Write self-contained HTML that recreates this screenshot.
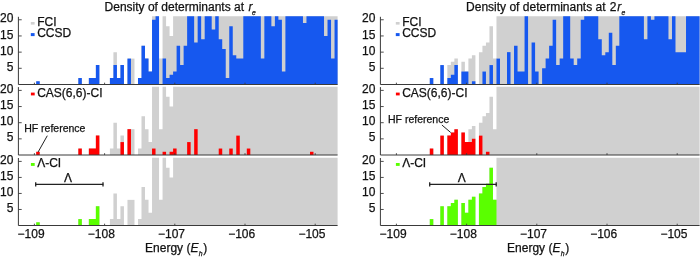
<!DOCTYPE html>
<html><head><meta charset="utf-8"><style>
html,body{margin:0;padding:0;background:#fff;}
body{width:700px;height:257px;overflow:hidden;}
svg{display:block;}
.t{font-family:"Liberation Sans",Arial,sans-serif;font-size:12px;fill:#111;stroke:#111;stroke-width:0.25px;}
.lg{font-family:"Liberation Sans",Arial,sans-serif;font-size:12px;fill:#111;stroke:#111;stroke-width:0.25px;}
.ti{font-family:"Liberation Sans",Arial,sans-serif;font-size:12px;fill:#111;stroke:#111;stroke-width:0.25px;}
.hf{font-family:"Liberation Sans",Arial,sans-serif;font-size:10.5px;fill:#111;stroke:#111;stroke-width:0.25px;}
.lam{font-family:"Liberation Sans",Arial,sans-serif;font-size:12px;fill:#111;stroke:#111;stroke-width:0.25px;}
</style></head><body>
<svg width="700" height="257" viewBox="0 0 700 257" >
<rect x="0" y="0" width="700" height="257" fill="#fff"/>
<path d="M36.20 84.50 L36.20 81.26 L39.71 81.26 L39.71 84.50 Z" fill="#D0D0D0"/>
<path d="M78.32 84.50 L78.32 78.03 L81.83 78.03 L81.83 84.50 Z" fill="#D0D0D0"/>
<path d="M88.85 84.50 L88.85 78.03 L92.36 78.03 L92.36 78.03 L95.87 78.03 L95.87 65.08 L99.38 65.08 L99.38 84.50 Z" fill="#D0D0D0"/>
<path d="M109.91 84.50 L109.91 78.03 L113.42 78.03 L113.42 52.13 L116.93 52.13 L116.93 78.03 L120.44 78.03 L120.44 65.08 L123.95 65.08 L123.95 84.50 Z" fill="#D0D0D0"/>
<path d="M127.46 84.50 L127.46 58.60 L130.97 58.60 L130.97 58.60 L134.48 58.60 L134.48 84.50 Z" fill="#D0D0D0"/>
<path d="M137.99 84.50 L137.99 78.03 L141.50 78.03 L141.50 45.66 L145.01 45.66 L145.01 58.60 L148.52 58.60 L148.52 71.55 L152.03 71.55 L152.03 16.20 L155.54 16.20 L155.54 16.20 L159.05 16.20 L159.05 58.60 L162.56 58.60 L162.56 16.20 L166.07 16.20 L166.07 26.23 L169.58 26.23 L169.58 35.95 L173.09 35.95 L173.09 16.20 L176.60 16.20 L176.60 16.20 L180.11 16.20 L180.11 16.20 L183.62 16.20 L183.62 16.20 L187.13 16.20 L187.13 16.20 L190.64 16.20 L190.64 16.20 L194.15 16.20 L194.15 16.20 L197.66 16.20 L197.66 16.20 L201.17 16.20 L201.17 16.20 L204.68 16.20 L204.68 16.20 L208.19 16.20 L208.19 16.20 L211.70 16.20 L211.70 16.20 L215.21 16.20 L215.21 16.20 L218.72 16.20 L218.72 16.20 L222.23 16.20 L222.23 16.20 L225.74 16.20 L225.74 16.20 L229.25 16.20 L229.25 16.20 L232.76 16.20 L232.76 16.20 L236.27 16.20 L236.27 16.20 L239.78 16.20 L239.78 16.20 L243.29 16.20 L243.29 16.20 L246.80 16.20 L246.80 16.20 L250.31 16.20 L250.31 16.20 L253.82 16.20 L253.82 16.20 L257.33 16.20 L257.33 16.20 L260.84 16.20 L260.84 16.20 L264.35 16.20 L264.35 16.20 L267.86 16.20 L267.86 16.20 L271.37 16.20 L271.37 16.20 L274.88 16.20 L274.88 16.20 L278.39 16.20 L278.39 16.20 L281.90 16.20 L281.90 16.20 L285.41 16.20 L285.41 16.20 L288.92 16.20 L288.92 16.20 L292.43 16.20 L292.43 16.20 L295.94 16.20 L295.94 16.20 L299.45 16.20 L299.45 16.20 L302.96 16.20 L302.96 16.20 L306.47 16.20 L306.47 16.20 L309.98 16.20 L309.98 16.20 L313.49 16.20 L313.49 16.20 L317.00 16.20 L317.00 16.20 L320.51 16.20 L320.51 16.20 L324.02 16.20 L324.02 16.20 L327.53 16.20 L327.53 16.20 L331.04 16.20 L331.04 16.20 L334.55 16.20 L334.55 16.20 L337.60 16.20 L337.60 84.50 Z" fill="#D0D0D0"/>
<path d="M36.20 84.50 L36.20 81.26 L39.71 81.26 L39.71 84.50 Z" fill="#1658EF"/>
<path d="M78.32 84.50 L78.32 78.03 L81.83 78.03 L81.83 84.50 Z" fill="#1658EF"/>
<path d="M88.85 84.50 L88.85 78.03 L92.36 78.03 L92.36 78.03 L95.87 78.03 L95.87 65.08 L99.38 65.08 L99.38 84.50 Z" fill="#1658EF"/>
<path d="M109.91 84.50 L109.91 78.03 L113.42 78.03 L113.42 65.08 L116.93 65.08 L116.93 78.03 L120.44 78.03 L120.44 65.08 L123.95 65.08 L123.95 84.50 Z" fill="#1658EF"/>
<path d="M127.46 84.50 L127.46 58.60 L130.97 58.60 L130.97 84.50 Z" fill="#1658EF"/>
<path d="M137.99 84.50 L137.99 78.03 L141.50 78.03 L141.50 45.66 L145.01 45.66 L145.01 58.60 L148.52 58.60 L148.52 71.55 L152.03 71.55 L152.03 19.76 L155.54 19.76 L155.54 16.20 L159.05 16.20 L159.05 84.50 Z" fill="#1658EF"/>
<path d="M162.56 84.50 L162.56 58.60 L166.07 58.60 L166.07 78.03 L169.58 78.03 L169.58 74.79 L173.09 74.79 L173.09 71.55 L176.60 71.55 L176.60 45.66 L180.11 45.66 L180.11 65.08 L183.62 65.08 L183.62 45.66 L187.13 45.66 L187.13 16.20 L190.64 16.20 L190.64 16.20 L194.15 16.20 L194.15 42.42 L197.66 42.42 L197.66 16.20 L201.17 16.20 L201.17 39.18 L204.68 39.18 L204.68 16.20 L208.19 16.20 L208.19 16.20 L211.70 16.20 L211.70 29.47 L215.21 29.47 L215.21 16.20 L218.72 16.20 L218.72 39.18 L222.23 39.18 L222.23 48.89 L225.74 48.89 L225.74 78.03 L229.25 78.03 L229.25 26.23 L232.76 26.23 L232.76 55.37 L236.27 55.37 L236.27 58.60 L239.78 58.60 L239.78 58.60 L243.29 58.60 L243.29 16.20 L246.80 16.20 L246.80 16.20 L250.31 16.20 L250.31 16.20 L253.82 16.20 L253.82 16.20 L257.33 16.20 L257.33 16.20 L260.84 16.20 L260.84 58.60 L264.35 58.60 L264.35 16.20 L267.86 16.20 L267.86 16.20 L271.37 16.20 L271.37 26.23 L274.88 26.23 L274.88 16.20 L278.39 16.20 L278.39 19.76 L281.90 19.76 L281.90 71.55 L285.41 71.55 L285.41 16.20 L288.92 16.20 L288.92 16.20 L292.43 16.20 L292.43 16.20 L295.94 16.20 L295.94 16.20 L299.45 16.20 L299.45 16.20 L302.96 16.20 L302.96 23.00 L306.47 23.00 L306.47 16.20 L309.98 16.20 L309.98 16.20 L313.49 16.20 L313.49 16.20 L317.00 16.20 L317.00 16.20 L320.51 16.20 L320.51 16.20 L324.02 16.20 L324.02 35.95 L327.53 35.95 L327.53 19.76 L331.04 19.76 L331.04 58.60 L334.55 58.60 L334.55 19.76 L337.60 19.76 L337.60 84.50 Z" fill="#1658EF"/>
<path d="M36.20 155.00 L36.20 151.77 L39.71 151.77 L39.71 155.00 Z" fill="#D0D0D0"/>
<path d="M78.32 155.00 L78.32 148.54 L81.83 148.54 L81.83 155.00 Z" fill="#D0D0D0"/>
<path d="M88.85 155.00 L88.85 148.54 L92.36 148.54 L92.36 148.54 L95.87 148.54 L95.87 135.62 L99.38 135.62 L99.38 155.00 Z" fill="#D0D0D0"/>
<path d="M109.91 155.00 L109.91 148.54 L113.42 148.54 L113.42 122.70 L116.93 122.70 L116.93 148.54 L120.44 148.54 L120.44 135.62 L123.95 135.62 L123.95 155.00 Z" fill="#D0D0D0"/>
<path d="M127.46 155.00 L127.46 129.16 L130.97 129.16 L130.97 129.16 L134.48 129.16 L134.48 155.00 Z" fill="#D0D0D0"/>
<path d="M137.99 155.00 L137.99 148.54 L141.50 148.54 L141.50 116.24 L145.01 116.24 L145.01 129.16 L148.52 129.16 L148.52 142.08 L152.03 142.08 L152.03 86.85 L155.54 86.85 L155.54 86.85 L159.05 86.85 L159.05 129.16 L162.56 129.16 L162.56 86.85 L166.07 86.85 L166.07 96.86 L169.58 96.86 L169.58 106.55 L173.09 106.55 L173.09 86.85 L176.60 86.85 L176.60 86.85 L180.11 86.85 L180.11 86.85 L183.62 86.85 L183.62 86.85 L187.13 86.85 L187.13 86.85 L190.64 86.85 L190.64 86.85 L194.15 86.85 L194.15 86.85 L197.66 86.85 L197.66 86.85 L201.17 86.85 L201.17 86.85 L204.68 86.85 L204.68 86.85 L208.19 86.85 L208.19 86.85 L211.70 86.85 L211.70 86.85 L215.21 86.85 L215.21 86.85 L218.72 86.85 L218.72 86.85 L222.23 86.85 L222.23 86.85 L225.74 86.85 L225.74 86.85 L229.25 86.85 L229.25 86.85 L232.76 86.85 L232.76 86.85 L236.27 86.85 L236.27 86.85 L239.78 86.85 L239.78 86.85 L243.29 86.85 L243.29 86.85 L246.80 86.85 L246.80 86.85 L250.31 86.85 L250.31 86.85 L253.82 86.85 L253.82 86.85 L257.33 86.85 L257.33 86.85 L260.84 86.85 L260.84 86.85 L264.35 86.85 L264.35 86.85 L267.86 86.85 L267.86 86.85 L271.37 86.85 L271.37 86.85 L274.88 86.85 L274.88 86.85 L278.39 86.85 L278.39 86.85 L281.90 86.85 L281.90 86.85 L285.41 86.85 L285.41 86.85 L288.92 86.85 L288.92 86.85 L292.43 86.85 L292.43 86.85 L295.94 86.85 L295.94 86.85 L299.45 86.85 L299.45 86.85 L302.96 86.85 L302.96 86.85 L306.47 86.85 L306.47 86.85 L309.98 86.85 L309.98 86.85 L313.49 86.85 L313.49 86.85 L317.00 86.85 L317.00 86.85 L320.51 86.85 L320.51 86.85 L324.02 86.85 L324.02 86.85 L327.53 86.85 L327.53 86.85 L331.04 86.85 L331.04 86.85 L334.55 86.85 L334.55 86.85 L337.60 86.85 L337.60 155.00 Z" fill="#D0D0D0"/>
<path d="M36.20 155.00 L36.20 151.77 L39.71 151.77 L39.71 155.00 Z" fill="#FF0000"/>
<path d="M78.32 155.00 L78.32 148.54 L81.83 148.54 L81.83 155.00 Z" fill="#FF0000"/>
<path d="M88.85 155.00 L88.85 148.54 L92.36 148.54 L92.36 148.54 L95.87 148.54 L95.87 135.62 L99.38 135.62 L99.38 155.00 Z" fill="#FF0000"/>
<path d="M120.44 155.00 L120.44 142.08 L123.95 142.08 L123.95 155.00 Z" fill="#FF0000"/>
<path d="M127.46 155.00 L127.46 129.16 L130.97 129.16 L130.97 155.00 Z" fill="#FF0000"/>
<path d="M152.03 155.00 L152.03 148.54 L155.54 148.54 L155.54 155.00 Z" fill="#FF0000"/>
<path d="M162.56 155.00 L162.56 151.77 L166.07 151.77 L166.07 155.00 Z" fill="#FF0000"/>
<path d="M169.58 155.00 L169.58 151.77 L173.09 151.77 L173.09 148.54 L176.60 148.54 L176.60 155.00 Z" fill="#FF0000"/>
<path d="M187.13 155.00 L187.13 142.08 L190.64 142.08 L190.64 155.00 Z" fill="#FF0000"/>
<path d="M194.15 155.00 L194.15 129.16 L197.66 129.16 L197.66 155.00 Z" fill="#FF0000"/>
<path d="M218.72 155.00 L218.72 148.54 L222.23 148.54 L222.23 155.00 Z" fill="#FF0000"/>
<path d="M229.25 155.00 L229.25 148.54 L232.76 148.54 L232.76 155.00 Z" fill="#FF0000"/>
<path d="M236.27 155.00 L236.27 135.62 L239.78 135.62 L239.78 155.00 Z" fill="#FF0000"/>
<path d="M246.80 155.00 L246.80 148.54 L250.31 148.54 L250.31 155.00 Z" fill="#FF0000"/>
<path d="M309.98 155.00 L309.98 151.77 L313.49 151.77 L313.49 155.00 Z" fill="#FF0000"/>
<path d="M36.20 225.50 L36.20 222.29 L39.71 222.29 L39.71 225.50 Z" fill="#D0D0D0"/>
<path d="M78.32 225.50 L78.32 219.09 L81.83 219.09 L81.83 225.50 Z" fill="#D0D0D0"/>
<path d="M88.85 225.50 L88.85 219.09 L92.36 219.09 L92.36 219.09 L95.87 219.09 L95.87 206.27 L99.38 206.27 L99.38 225.50 Z" fill="#D0D0D0"/>
<path d="M109.91 225.50 L109.91 219.09 L113.42 219.09 L113.42 193.45 L116.93 193.45 L116.93 219.09 L120.44 219.09 L120.44 206.27 L123.95 206.27 L123.95 225.50 Z" fill="#D0D0D0"/>
<path d="M127.46 225.50 L127.46 199.86 L130.97 199.86 L130.97 199.86 L134.48 199.86 L134.48 225.50 Z" fill="#D0D0D0"/>
<path d="M137.99 225.50 L137.99 219.09 L141.50 219.09 L141.50 187.04 L145.01 187.04 L145.01 199.86 L148.52 199.86 L148.52 212.68 L152.03 212.68 L152.03 157.87 L155.54 157.87 L155.54 157.87 L159.05 157.87 L159.05 199.86 L162.56 199.86 L162.56 157.87 L166.07 157.87 L166.07 167.81 L169.58 167.81 L169.58 177.43 L173.09 177.43 L173.09 157.87 L176.60 157.87 L176.60 157.87 L180.11 157.87 L180.11 157.87 L183.62 157.87 L183.62 157.87 L187.13 157.87 L187.13 157.87 L190.64 157.87 L190.64 157.87 L194.15 157.87 L194.15 157.87 L197.66 157.87 L197.66 157.87 L201.17 157.87 L201.17 157.87 L204.68 157.87 L204.68 157.87 L208.19 157.87 L208.19 157.87 L211.70 157.87 L211.70 157.87 L215.21 157.87 L215.21 157.87 L218.72 157.87 L218.72 157.87 L222.23 157.87 L222.23 157.87 L225.74 157.87 L225.74 157.87 L229.25 157.87 L229.25 157.87 L232.76 157.87 L232.76 157.87 L236.27 157.87 L236.27 157.87 L239.78 157.87 L239.78 157.87 L243.29 157.87 L243.29 157.87 L246.80 157.87 L246.80 157.87 L250.31 157.87 L250.31 157.87 L253.82 157.87 L253.82 157.87 L257.33 157.87 L257.33 157.87 L260.84 157.87 L260.84 157.87 L264.35 157.87 L264.35 157.87 L267.86 157.87 L267.86 157.87 L271.37 157.87 L271.37 157.87 L274.88 157.87 L274.88 157.87 L278.39 157.87 L278.39 157.87 L281.90 157.87 L281.90 157.87 L285.41 157.87 L285.41 157.87 L288.92 157.87 L288.92 157.87 L292.43 157.87 L292.43 157.87 L295.94 157.87 L295.94 157.87 L299.45 157.87 L299.45 157.87 L302.96 157.87 L302.96 157.87 L306.47 157.87 L306.47 157.87 L309.98 157.87 L309.98 157.87 L313.49 157.87 L313.49 157.87 L317.00 157.87 L317.00 157.87 L320.51 157.87 L320.51 157.87 L324.02 157.87 L324.02 157.87 L327.53 157.87 L327.53 157.87 L331.04 157.87 L331.04 157.87 L334.55 157.87 L334.55 157.87 L337.60 157.87 L337.60 225.50 Z" fill="#D0D0D0"/>
<path d="M36.20 225.50 L36.20 222.29 L39.71 222.29 L39.71 225.50 Z" fill="#5AFF00"/>
<path d="M78.32 225.50 L78.32 219.09 L81.83 219.09 L81.83 225.50 Z" fill="#5AFF00"/>
<path d="M88.85 225.50 L88.85 219.09 L92.36 219.09 L92.36 219.09 L95.87 219.09 L95.87 206.27 L99.38 206.27 L99.38 225.50 Z" fill="#5AFF00"/>
<line x1="18.40" y1="68.31" x2="21.70" y2="68.31" stroke="#3a3a3a" stroke-width="0.9"/>
<text x="13.40" y="70.91" text-anchor="end" class="t">5</text>
<line x1="18.40" y1="52.13" x2="21.70" y2="52.13" stroke="#3a3a3a" stroke-width="0.9"/>
<text x="13.40" y="54.73" text-anchor="end" class="t">10</text>
<line x1="18.40" y1="35.95" x2="21.70" y2="35.95" stroke="#3a3a3a" stroke-width="0.9"/>
<text x="13.40" y="38.55" text-anchor="end" class="t">15</text>
<line x1="18.40" y1="19.76" x2="21.70" y2="19.76" stroke="#3a3a3a" stroke-width="0.9"/>
<text x="13.40" y="22.36" text-anchor="end" class="t">20</text>
<line x1="34.40" y1="84.50" x2="34.40" y2="82.70" stroke="#3a3a3a" stroke-width="0.9"/>
<line x1="104.60" y1="84.50" x2="104.60" y2="82.70" stroke="#3a3a3a" stroke-width="0.9"/>
<line x1="174.80" y1="84.50" x2="174.80" y2="82.70" stroke="#3a3a3a" stroke-width="0.9"/>
<line x1="245.00" y1="84.50" x2="245.00" y2="82.70" stroke="#3a3a3a" stroke-width="0.9"/>
<line x1="315.20" y1="84.50" x2="315.20" y2="82.70" stroke="#3a3a3a" stroke-width="0.9"/>
<path d="M18.40 16.80 V84.50 H337.60" fill="none" stroke="#3a3a3a" stroke-width="1"/>
<line x1="18.40" y1="138.85" x2="21.70" y2="138.85" stroke="#3a3a3a" stroke-width="0.9"/>
<text x="13.40" y="141.45" text-anchor="end" class="t">5</text>
<line x1="18.40" y1="122.70" x2="21.70" y2="122.70" stroke="#3a3a3a" stroke-width="0.9"/>
<text x="13.40" y="125.30" text-anchor="end" class="t">10</text>
<line x1="18.40" y1="106.55" x2="21.70" y2="106.55" stroke="#3a3a3a" stroke-width="0.9"/>
<text x="13.40" y="109.15" text-anchor="end" class="t">15</text>
<line x1="18.40" y1="90.40" x2="21.70" y2="90.40" stroke="#3a3a3a" stroke-width="0.9"/>
<text x="13.40" y="93.00" text-anchor="end" class="t">20</text>
<line x1="34.40" y1="155.00" x2="34.40" y2="153.20" stroke="#3a3a3a" stroke-width="0.9"/>
<line x1="104.60" y1="155.00" x2="104.60" y2="153.20" stroke="#3a3a3a" stroke-width="0.9"/>
<line x1="174.80" y1="155.00" x2="174.80" y2="153.20" stroke="#3a3a3a" stroke-width="0.9"/>
<line x1="245.00" y1="155.00" x2="245.00" y2="153.20" stroke="#3a3a3a" stroke-width="0.9"/>
<line x1="315.20" y1="155.00" x2="315.20" y2="153.20" stroke="#3a3a3a" stroke-width="0.9"/>
<path d="M18.40 87.10 V155.00 H337.60" fill="none" stroke="#3a3a3a" stroke-width="1"/>
<line x1="18.40" y1="209.47" x2="21.70" y2="209.47" stroke="#3a3a3a" stroke-width="0.9"/>
<text x="13.40" y="212.07" text-anchor="end" class="t">5</text>
<line x1="18.40" y1="193.45" x2="21.70" y2="193.45" stroke="#3a3a3a" stroke-width="0.9"/>
<text x="13.40" y="196.05" text-anchor="end" class="t">10</text>
<line x1="18.40" y1="177.43" x2="21.70" y2="177.43" stroke="#3a3a3a" stroke-width="0.9"/>
<text x="13.40" y="180.03" text-anchor="end" class="t">15</text>
<line x1="18.40" y1="161.40" x2="21.70" y2="161.40" stroke="#3a3a3a" stroke-width="0.9"/>
<text x="13.40" y="164.00" text-anchor="end" class="t">20</text>
<line x1="34.40" y1="225.50" x2="34.40" y2="223.70" stroke="#3a3a3a" stroke-width="0.9"/>
<line x1="104.60" y1="225.50" x2="104.60" y2="223.70" stroke="#3a3a3a" stroke-width="0.9"/>
<line x1="174.80" y1="225.50" x2="174.80" y2="223.70" stroke="#3a3a3a" stroke-width="0.9"/>
<line x1="245.00" y1="225.50" x2="245.00" y2="223.70" stroke="#3a3a3a" stroke-width="0.9"/>
<line x1="315.20" y1="225.50" x2="315.20" y2="223.70" stroke="#3a3a3a" stroke-width="0.9"/>
<path d="M18.40 158.00 V225.50 H337.60" fill="none" stroke="#3a3a3a" stroke-width="1"/>
<text x="34.40" y="237.5" class="t" text-anchor="middle"><tspan dx="-3.3">−109</tspan></text>
<text x="104.60" y="237.5" class="t" text-anchor="middle"><tspan dx="-3.3">−108</tspan></text>
<text x="174.80" y="237.5" class="t" text-anchor="middle"><tspan dx="-3.3">−107</tspan></text>
<text x="245.00" y="237.5" class="t" text-anchor="middle"><tspan dx="-3.3">−106</tspan></text>
<text x="315.20" y="237.5" class="t" text-anchor="middle"><tspan dx="-3.3">−105</tspan></text>
<text x="145.10" y="251.7" class="t">Energy (<tspan font-style="italic">E</tspan><tspan font-style="italic" font-size="6.8" dy="4.0" dx="0.3">h</tspan><tspan dy="-4.0" dx="0.6">)</tspan></text>
<path d="M429.79 84.50 L429.79 78.03 L433.30 78.03 L433.30 84.50 Z" fill="#D0D0D0"/>
<path d="M440.32 84.50 L440.32 65.08 L443.83 65.08 L443.83 84.50 Z" fill="#D0D0D0"/>
<path d="M447.34 84.50 L447.34 65.08 L450.85 65.08 L450.85 61.84 L454.36 61.84 L454.36 58.60 L457.87 58.60 L457.87 84.50 Z" fill="#D0D0D0"/>
<path d="M461.38 84.50 L461.38 61.84 L464.89 61.84 L464.89 71.55 L468.40 71.55 L468.40 58.60 L471.91 58.60 L471.91 55.37 L475.42 55.37 L475.42 84.50 Z" fill="#D0D0D0"/>
<path d="M478.93 84.50 L478.93 52.13 L482.44 52.13 L482.44 45.66 L485.95 45.66 L485.95 42.42 L489.46 42.42 L489.46 26.23 L492.97 26.23 L492.97 58.60 L496.48 58.60 L496.48 16.20 L499.99 16.20 L499.99 16.20 L503.50 16.20 L503.50 16.20 L507.01 16.20 L507.01 16.20 L510.52 16.20 L510.52 16.20 L514.03 16.20 L514.03 16.20 L517.54 16.20 L517.54 16.20 L521.05 16.20 L521.05 16.20 L524.56 16.20 L524.56 16.20 L528.07 16.20 L528.07 16.20 L531.58 16.20 L531.58 16.20 L535.09 16.20 L535.09 16.20 L538.60 16.20 L538.60 16.20 L542.11 16.20 L542.11 16.20 L545.62 16.20 L545.62 16.20 L549.13 16.20 L549.13 16.20 L552.64 16.20 L552.64 16.20 L556.15 16.20 L556.15 16.20 L559.66 16.20 L559.66 16.20 L563.17 16.20 L563.17 16.20 L566.68 16.20 L566.68 16.20 L570.19 16.20 L570.19 16.20 L573.70 16.20 L573.70 16.20 L577.21 16.20 L577.21 16.20 L580.72 16.20 L580.72 16.20 L584.23 16.20 L584.23 16.20 L587.74 16.20 L587.74 16.20 L591.25 16.20 L591.25 16.20 L594.76 16.20 L594.76 16.20 L598.27 16.20 L598.27 16.20 L601.78 16.20 L601.78 16.20 L605.29 16.20 L605.29 16.20 L608.80 16.20 L608.80 16.20 L612.31 16.20 L612.31 16.20 L615.82 16.20 L615.82 16.20 L619.33 16.20 L619.33 16.20 L622.84 16.20 L622.84 16.20 L626.35 16.20 L626.35 16.20 L629.86 16.20 L629.86 16.20 L633.37 16.20 L633.37 16.20 L636.88 16.20 L636.88 16.20 L640.39 16.20 L640.39 16.20 L643.90 16.20 L643.90 16.20 L647.41 16.20 L647.41 16.20 L650.92 16.20 L650.92 16.20 L654.43 16.20 L654.43 16.20 L657.94 16.20 L657.94 16.20 L661.45 16.20 L661.45 16.20 L664.96 16.20 L664.96 16.20 L668.47 16.20 L668.47 16.20 L671.98 16.20 L671.98 16.20 L675.49 16.20 L675.49 16.20 L679.00 16.20 L679.00 16.20 L682.51 16.20 L682.51 16.20 L686.02 16.20 L686.02 16.20 L689.53 16.20 L689.53 16.20 L693.04 16.20 L693.04 16.20 L696.55 16.20 L696.55 16.20 L699.60 16.20 L699.60 84.50 Z" fill="#D0D0D0"/>
<path d="M429.79 84.50 L429.79 78.03 L433.30 78.03 L433.30 84.50 Z" fill="#1658EF"/>
<path d="M440.32 84.50 L440.32 65.08 L443.83 65.08 L443.83 84.50 Z" fill="#1658EF"/>
<path d="M447.34 84.50 L447.34 78.03 L450.85 78.03 L450.85 74.79 L454.36 74.79 L454.36 65.08 L457.87 65.08 L457.87 84.50 Z" fill="#1658EF"/>
<path d="M461.38 84.50 L461.38 71.55 L464.89 71.55 L464.89 71.55 L468.40 71.55 L468.40 84.50 Z" fill="#1658EF"/>
<path d="M471.91 84.50 L471.91 81.26 L475.42 81.26 L475.42 84.50 Z" fill="#1658EF"/>
<path d="M482.44 84.50 L482.44 71.55 L485.95 71.55 L485.95 84.50 Z" fill="#1658EF"/>
<path d="M489.46 84.50 L489.46 65.08 L492.97 65.08 L492.97 84.50 Z" fill="#1658EF"/>
<path d="M496.48 84.50 L496.48 58.60 L499.99 58.60 L499.99 84.50 Z" fill="#1658EF"/>
<path d="M507.01 84.50 L507.01 52.13 L510.52 52.13 L510.52 84.50 Z" fill="#1658EF"/>
<path d="M514.03 84.50 L514.03 45.66 L517.54 45.66 L517.54 71.55 L521.05 71.55 L521.05 71.55 L524.56 71.55 L524.56 16.20 L528.07 16.20 L528.07 84.50 Z" fill="#1658EF"/>
<path d="M531.58 84.50 L531.58 42.42 L535.09 42.42 L535.09 71.55 L538.60 71.55 L538.60 84.50 Z" fill="#1658EF"/>
<path d="M542.11 84.50 L542.11 68.31 L545.62 68.31 L545.62 58.60 L549.13 58.60 L549.13 45.66 L552.64 45.66 L552.64 19.76 L556.15 19.76 L556.15 65.08 L559.66 65.08 L559.66 58.60 L563.17 58.60 L563.17 16.20 L566.68 16.20 L566.68 16.20 L570.19 16.20 L570.19 58.60 L573.70 58.60 L573.70 65.08 L577.21 65.08 L577.21 58.60 L580.72 58.60 L580.72 19.76 L584.23 19.76 L584.23 16.20 L587.74 16.20 L587.74 16.20 L591.25 16.20 L591.25 16.20 L594.76 16.20 L594.76 16.20 L598.27 16.20 L598.27 39.18 L601.78 39.18 L601.78 55.37 L605.29 55.37 L605.29 52.13 L608.80 52.13 L608.80 32.71 L612.31 32.71 L612.31 65.08 L615.82 65.08 L615.82 45.66 L619.33 45.66 L619.33 16.20 L622.84 16.20 L622.84 16.20 L626.35 16.20 L626.35 16.20 L629.86 16.20 L629.86 16.20 L633.37 16.20 L633.37 16.20 L636.88 16.20 L636.88 16.20 L640.39 16.20 L640.39 16.20 L643.90 16.20 L643.90 39.18 L647.41 39.18 L647.41 16.20 L650.92 16.20 L650.92 19.76 L654.43 19.76 L654.43 16.20 L657.94 16.20 L657.94 16.20 L661.45 16.20 L661.45 16.20 L664.96 16.20 L664.96 16.20 L668.47 16.20 L668.47 39.18 L671.98 39.18 L671.98 16.20 L675.49 16.20 L675.49 52.13 L679.00 52.13 L679.00 52.13 L682.51 52.13 L682.51 52.13 L686.02 52.13 L686.02 16.20 L689.53 16.20 L689.53 16.20 L693.04 16.20 L693.04 16.20 L696.55 16.20 L696.55 16.20 L699.60 16.20 L699.60 84.50 Z" fill="#1658EF"/>
<path d="M429.79 155.00 L429.79 148.54 L433.30 148.54 L433.30 155.00 Z" fill="#D0D0D0"/>
<path d="M440.32 155.00 L440.32 135.62 L443.83 135.62 L443.83 155.00 Z" fill="#D0D0D0"/>
<path d="M447.34 155.00 L447.34 135.62 L450.85 135.62 L450.85 132.39 L454.36 132.39 L454.36 129.16 L457.87 129.16 L457.87 155.00 Z" fill="#D0D0D0"/>
<path d="M461.38 155.00 L461.38 132.39 L464.89 132.39 L464.89 142.08 L468.40 142.08 L468.40 129.16 L471.91 129.16 L471.91 125.93 L475.42 125.93 L475.42 155.00 Z" fill="#D0D0D0"/>
<path d="M478.93 155.00 L478.93 122.70 L482.44 122.70 L482.44 116.24 L485.95 116.24 L485.95 113.01 L489.46 113.01 L489.46 96.86 L492.97 96.86 L492.97 129.16 L496.48 129.16 L496.48 86.85 L499.99 86.85 L499.99 86.85 L503.50 86.85 L503.50 86.85 L507.01 86.85 L507.01 86.85 L510.52 86.85 L510.52 86.85 L514.03 86.85 L514.03 86.85 L517.54 86.85 L517.54 86.85 L521.05 86.85 L521.05 86.85 L524.56 86.85 L524.56 86.85 L528.07 86.85 L528.07 86.85 L531.58 86.85 L531.58 86.85 L535.09 86.85 L535.09 86.85 L538.60 86.85 L538.60 86.85 L542.11 86.85 L542.11 86.85 L545.62 86.85 L545.62 86.85 L549.13 86.85 L549.13 86.85 L552.64 86.85 L552.64 86.85 L556.15 86.85 L556.15 86.85 L559.66 86.85 L559.66 86.85 L563.17 86.85 L563.17 86.85 L566.68 86.85 L566.68 86.85 L570.19 86.85 L570.19 86.85 L573.70 86.85 L573.70 86.85 L577.21 86.85 L577.21 86.85 L580.72 86.85 L580.72 86.85 L584.23 86.85 L584.23 86.85 L587.74 86.85 L587.74 86.85 L591.25 86.85 L591.25 86.85 L594.76 86.85 L594.76 86.85 L598.27 86.85 L598.27 86.85 L601.78 86.85 L601.78 86.85 L605.29 86.85 L605.29 86.85 L608.80 86.85 L608.80 86.85 L612.31 86.85 L612.31 86.85 L615.82 86.85 L615.82 86.85 L619.33 86.85 L619.33 86.85 L622.84 86.85 L622.84 86.85 L626.35 86.85 L626.35 86.85 L629.86 86.85 L629.86 86.85 L633.37 86.85 L633.37 86.85 L636.88 86.85 L636.88 86.85 L640.39 86.85 L640.39 86.85 L643.90 86.85 L643.90 86.85 L647.41 86.85 L647.41 86.85 L650.92 86.85 L650.92 86.85 L654.43 86.85 L654.43 86.85 L657.94 86.85 L657.94 86.85 L661.45 86.85 L661.45 86.85 L664.96 86.85 L664.96 86.85 L668.47 86.85 L668.47 86.85 L671.98 86.85 L671.98 86.85 L675.49 86.85 L675.49 86.85 L679.00 86.85 L679.00 86.85 L682.51 86.85 L682.51 86.85 L686.02 86.85 L686.02 86.85 L689.53 86.85 L689.53 86.85 L693.04 86.85 L693.04 86.85 L696.55 86.85 L696.55 86.85 L699.60 86.85 L699.60 155.00 Z" fill="#D0D0D0"/>
<path d="M429.79 155.00 L429.79 148.54 L433.30 148.54 L433.30 155.00 Z" fill="#FF0000"/>
<path d="M440.32 155.00 L440.32 135.62 L443.83 135.62 L443.83 155.00 Z" fill="#FF0000"/>
<path d="M447.34 155.00 L447.34 135.62 L450.85 135.62 L450.85 132.39 L454.36 132.39 L454.36 129.16 L457.87 129.16 L457.87 155.00 Z" fill="#FF0000"/>
<path d="M461.38 155.00 L461.38 132.39 L464.89 132.39 L464.89 142.08 L468.40 142.08 L468.40 142.08 L471.91 142.08 L471.91 138.85 L475.42 138.85 L475.42 155.00 Z" fill="#FF0000"/>
<path d="M478.93 155.00 L478.93 135.62 L482.44 135.62 L482.44 155.00 Z" fill="#FF0000"/>
<path d="M485.95 155.00 L485.95 151.77 L489.46 151.77 L489.46 155.00 Z" fill="#FF0000"/>
<path d="M429.79 225.50 L429.79 219.09 L433.30 219.09 L433.30 225.50 Z" fill="#D0D0D0"/>
<path d="M440.32 225.50 L440.32 206.27 L443.83 206.27 L443.83 225.50 Z" fill="#D0D0D0"/>
<path d="M447.34 225.50 L447.34 206.27 L450.85 206.27 L450.85 203.06 L454.36 203.06 L454.36 199.86 L457.87 199.86 L457.87 225.50 Z" fill="#D0D0D0"/>
<path d="M461.38 225.50 L461.38 203.06 L464.89 203.06 L464.89 212.68 L468.40 212.68 L468.40 199.86 L471.91 199.86 L471.91 196.66 L475.42 196.66 L475.42 225.50 Z" fill="#D0D0D0"/>
<path d="M478.93 225.50 L478.93 193.45 L482.44 193.45 L482.44 187.04 L485.95 187.04 L485.95 183.84 L489.46 183.84 L489.46 167.81 L492.97 167.81 L492.97 199.86 L496.48 199.86 L496.48 157.87 L499.99 157.87 L499.99 157.87 L503.50 157.87 L503.50 157.87 L507.01 157.87 L507.01 157.87 L510.52 157.87 L510.52 157.87 L514.03 157.87 L514.03 157.87 L517.54 157.87 L517.54 157.87 L521.05 157.87 L521.05 157.87 L524.56 157.87 L524.56 157.87 L528.07 157.87 L528.07 157.87 L531.58 157.87 L531.58 157.87 L535.09 157.87 L535.09 157.87 L538.60 157.87 L538.60 157.87 L542.11 157.87 L542.11 157.87 L545.62 157.87 L545.62 157.87 L549.13 157.87 L549.13 157.87 L552.64 157.87 L552.64 157.87 L556.15 157.87 L556.15 157.87 L559.66 157.87 L559.66 157.87 L563.17 157.87 L563.17 157.87 L566.68 157.87 L566.68 157.87 L570.19 157.87 L570.19 157.87 L573.70 157.87 L573.70 157.87 L577.21 157.87 L577.21 157.87 L580.72 157.87 L580.72 157.87 L584.23 157.87 L584.23 157.87 L587.74 157.87 L587.74 157.87 L591.25 157.87 L591.25 157.87 L594.76 157.87 L594.76 157.87 L598.27 157.87 L598.27 157.87 L601.78 157.87 L601.78 157.87 L605.29 157.87 L605.29 157.87 L608.80 157.87 L608.80 157.87 L612.31 157.87 L612.31 157.87 L615.82 157.87 L615.82 157.87 L619.33 157.87 L619.33 157.87 L622.84 157.87 L622.84 157.87 L626.35 157.87 L626.35 157.87 L629.86 157.87 L629.86 157.87 L633.37 157.87 L633.37 157.87 L636.88 157.87 L636.88 157.87 L640.39 157.87 L640.39 157.87 L643.90 157.87 L643.90 157.87 L647.41 157.87 L647.41 157.87 L650.92 157.87 L650.92 157.87 L654.43 157.87 L654.43 157.87 L657.94 157.87 L657.94 157.87 L661.45 157.87 L661.45 157.87 L664.96 157.87 L664.96 157.87 L668.47 157.87 L668.47 157.87 L671.98 157.87 L671.98 157.87 L675.49 157.87 L675.49 157.87 L679.00 157.87 L679.00 157.87 L682.51 157.87 L682.51 157.87 L686.02 157.87 L686.02 157.87 L689.53 157.87 L689.53 157.87 L693.04 157.87 L693.04 157.87 L696.55 157.87 L696.55 157.87 L699.60 157.87 L699.60 225.50 Z" fill="#D0D0D0"/>
<path d="M429.79 225.50 L429.79 219.09 L433.30 219.09 L433.30 225.50 Z" fill="#5AFF00"/>
<path d="M440.32 225.50 L440.32 206.27 L443.83 206.27 L443.83 225.50 Z" fill="#5AFF00"/>
<path d="M447.34 225.50 L447.34 206.27 L450.85 206.27 L450.85 203.06 L454.36 203.06 L454.36 199.86 L457.87 199.86 L457.87 225.50 Z" fill="#5AFF00"/>
<path d="M461.38 225.50 L461.38 203.06 L464.89 203.06 L464.89 212.68 L468.40 212.68 L468.40 199.86 L471.91 199.86 L471.91 196.66 L475.42 196.66 L475.42 225.50 Z" fill="#5AFF00"/>
<path d="M478.93 225.50 L478.93 193.45 L482.44 193.45 L482.44 187.04 L485.95 187.04 L485.95 183.84 L489.46 183.84 L489.46 167.81 L492.97 167.81 L492.97 199.86 L496.48 199.86 L496.48 225.50 Z" fill="#5AFF00"/>
<line x1="380.40" y1="68.31" x2="383.70" y2="68.31" stroke="#3a3a3a" stroke-width="0.9"/>
<text x="375.40" y="70.91" text-anchor="end" class="t">5</text>
<line x1="380.40" y1="52.13" x2="383.70" y2="52.13" stroke="#3a3a3a" stroke-width="0.9"/>
<text x="375.40" y="54.73" text-anchor="end" class="t">10</text>
<line x1="380.40" y1="35.95" x2="383.70" y2="35.95" stroke="#3a3a3a" stroke-width="0.9"/>
<text x="375.40" y="38.55" text-anchor="end" class="t">15</text>
<line x1="380.40" y1="19.76" x2="383.70" y2="19.76" stroke="#3a3a3a" stroke-width="0.9"/>
<text x="375.40" y="22.36" text-anchor="end" class="t">20</text>
<line x1="396.40" y1="84.50" x2="396.40" y2="82.70" stroke="#3a3a3a" stroke-width="0.9"/>
<line x1="466.60" y1="84.50" x2="466.60" y2="82.70" stroke="#3a3a3a" stroke-width="0.9"/>
<line x1="536.80" y1="84.50" x2="536.80" y2="82.70" stroke="#3a3a3a" stroke-width="0.9"/>
<line x1="607.00" y1="84.50" x2="607.00" y2="82.70" stroke="#3a3a3a" stroke-width="0.9"/>
<line x1="677.20" y1="84.50" x2="677.20" y2="82.70" stroke="#3a3a3a" stroke-width="0.9"/>
<path d="M380.40 16.80 V84.50 H699.60" fill="none" stroke="#3a3a3a" stroke-width="1"/>
<line x1="380.40" y1="138.85" x2="383.70" y2="138.85" stroke="#3a3a3a" stroke-width="0.9"/>
<text x="375.40" y="141.45" text-anchor="end" class="t">5</text>
<line x1="380.40" y1="122.70" x2="383.70" y2="122.70" stroke="#3a3a3a" stroke-width="0.9"/>
<text x="375.40" y="125.30" text-anchor="end" class="t">10</text>
<line x1="380.40" y1="106.55" x2="383.70" y2="106.55" stroke="#3a3a3a" stroke-width="0.9"/>
<text x="375.40" y="109.15" text-anchor="end" class="t">15</text>
<line x1="380.40" y1="90.40" x2="383.70" y2="90.40" stroke="#3a3a3a" stroke-width="0.9"/>
<text x="375.40" y="93.00" text-anchor="end" class="t">20</text>
<line x1="396.40" y1="155.00" x2="396.40" y2="153.20" stroke="#3a3a3a" stroke-width="0.9"/>
<line x1="466.60" y1="155.00" x2="466.60" y2="153.20" stroke="#3a3a3a" stroke-width="0.9"/>
<line x1="536.80" y1="155.00" x2="536.80" y2="153.20" stroke="#3a3a3a" stroke-width="0.9"/>
<line x1="607.00" y1="155.00" x2="607.00" y2="153.20" stroke="#3a3a3a" stroke-width="0.9"/>
<line x1="677.20" y1="155.00" x2="677.20" y2="153.20" stroke="#3a3a3a" stroke-width="0.9"/>
<path d="M380.40 87.10 V155.00 H699.60" fill="none" stroke="#3a3a3a" stroke-width="1"/>
<line x1="380.40" y1="209.47" x2="383.70" y2="209.47" stroke="#3a3a3a" stroke-width="0.9"/>
<text x="375.40" y="212.07" text-anchor="end" class="t">5</text>
<line x1="380.40" y1="193.45" x2="383.70" y2="193.45" stroke="#3a3a3a" stroke-width="0.9"/>
<text x="375.40" y="196.05" text-anchor="end" class="t">10</text>
<line x1="380.40" y1="177.43" x2="383.70" y2="177.43" stroke="#3a3a3a" stroke-width="0.9"/>
<text x="375.40" y="180.03" text-anchor="end" class="t">15</text>
<line x1="380.40" y1="161.40" x2="383.70" y2="161.40" stroke="#3a3a3a" stroke-width="0.9"/>
<text x="375.40" y="164.00" text-anchor="end" class="t">20</text>
<line x1="396.40" y1="225.50" x2="396.40" y2="223.70" stroke="#3a3a3a" stroke-width="0.9"/>
<line x1="466.60" y1="225.50" x2="466.60" y2="223.70" stroke="#3a3a3a" stroke-width="0.9"/>
<line x1="536.80" y1="225.50" x2="536.80" y2="223.70" stroke="#3a3a3a" stroke-width="0.9"/>
<line x1="607.00" y1="225.50" x2="607.00" y2="223.70" stroke="#3a3a3a" stroke-width="0.9"/>
<line x1="677.20" y1="225.50" x2="677.20" y2="223.70" stroke="#3a3a3a" stroke-width="0.9"/>
<path d="M380.40 158.00 V225.50 H699.60" fill="none" stroke="#3a3a3a" stroke-width="1"/>
<text x="396.40" y="237.5" class="t" text-anchor="middle"><tspan dx="-3.3">−109</tspan></text>
<text x="466.60" y="237.5" class="t" text-anchor="middle"><tspan dx="-3.3">−108</tspan></text>
<text x="536.80" y="237.5" class="t" text-anchor="middle"><tspan dx="-3.3">−107</tspan></text>
<text x="607.00" y="237.5" class="t" text-anchor="middle"><tspan dx="-3.3">−106</tspan></text>
<text x="677.20" y="237.5" class="t" text-anchor="middle"><tspan dx="-3.3">−105</tspan></text>
<text x="507.10" y="251.7" class="t">Energy (<tspan font-style="italic">E</tspan><tspan font-style="italic" font-size="6.8" dy="4.0" dx="0.3">h</tspan><tspan dy="-4.0" dx="0.6">)</tspan></text>
<rect x="30.80" y="22.00" width="3.80" height="2.60" fill="#D0D0D0"/>
<text x="37.20" y="25.9" class="lg">FCI</text>
<rect x="30.80" y="33.10" width="3.80" height="3.00" fill="#1658EF"/>
<text x="37.20" y="37.4" class="lg">CCSD</text>
<rect x="30.90" y="92.60" width="3.80" height="2.80" fill="#FF0000"/>
<text x="37.20" y="96.8" class="lg">CAS(6,6)-CI</text>
<rect x="30.90" y="163.00" width="3.80" height="2.90" fill="#5AFF00"/>
<text x="37.20" y="167.0" class="lg">Λ-CI</text>
<rect x="395.80" y="22.00" width="3.80" height="2.60" fill="#D0D0D0"/>
<text x="402.20" y="25.9" class="lg">FCI</text>
<rect x="395.80" y="33.10" width="3.80" height="3.00" fill="#1658EF"/>
<text x="402.20" y="37.4" class="lg">CCSD</text>
<rect x="395.90" y="92.60" width="3.80" height="2.80" fill="#FF0000"/>
<text x="402.20" y="96.8" class="lg">CAS(6,6)-CI</text>
<rect x="395.90" y="163.00" width="3.80" height="2.90" fill="#5AFF00"/>
<text x="402.20" y="167.0" class="lg">Λ-CI</text>
<text x="104.6" y="11.2" class="ti">Density of determinants at <tspan font-style="italic" dx="1.2">r</tspan><tspan font-style="italic" font-size="6.8" dy="3.4" dx="-0.5">e</tspan></text>
<text x="466.1" y="11.0" class="ti">Density of determinants at <tspan dx="1.0">2</tspan><tspan font-style="italic" dx="0.8">r</tspan><tspan font-style="italic" font-size="6.8" dy="3.9" dx="0.1">e</tspan></text>
<text x="24.2" y="131.8" class="hf">HF reference</text>
<line x1="47.3" y1="135.7" x2="38.2" y2="151.9" stroke="#222" stroke-width="1"/>
<text x="388.0" y="122.5" class="hf">HF reference</text>
<line x1="441.9" y1="125.0" x2="450.7" y2="132.5" stroke="#222" stroke-width="1"/>
<line x1="35.4" y1="184.4" x2="103.3" y2="184.4" stroke="#222" stroke-width="1.2"/>
<line x1="35.699999999999996" y1="182.20000000000002" x2="35.699999999999996" y2="186.4" stroke="#222" stroke-width="1.3"/>
<line x1="103.0" y1="182.20000000000002" x2="103.0" y2="186.4" stroke="#222" stroke-width="1.3"/>
<text x="67.9" y="181.9" class="lam" text-anchor="middle">Λ</text>
<line x1="429.4" y1="184.4" x2="496.5" y2="184.4" stroke="#222" stroke-width="1.2"/>
<line x1="429.7" y1="182.20000000000002" x2="429.7" y2="186.4" stroke="#222" stroke-width="1.3"/>
<line x1="496.2" y1="182.20000000000002" x2="496.2" y2="186.4" stroke="#222" stroke-width="1.3"/>
<text x="461.8" y="181.9" class="lam" text-anchor="middle">Λ</text>
</svg>
</body></html>
